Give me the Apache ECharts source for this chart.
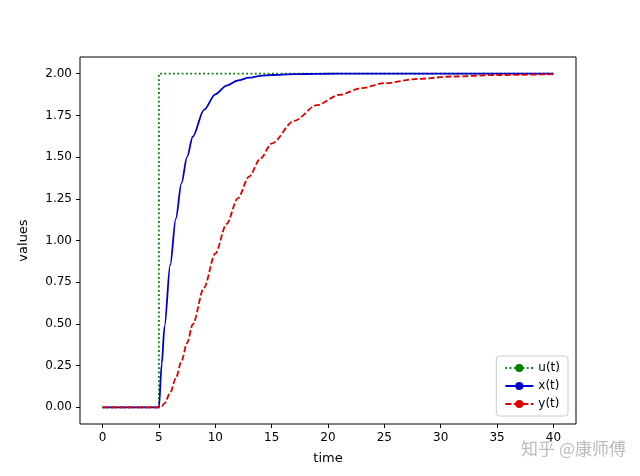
<!DOCTYPE html>
<html>
<head>
<meta charset="utf-8">
<script src="https://cdn.jsdelivr.net/npm/echarts@6/dist/echarts.min.js"></script>
<style>html,body{margin:0;padding:0;background:#fff}#chart{width:640px;height:476px}</style>
</head>
<body>
<div id="chart"></div>
<script>
// values
const uTime = [0, 5, 5, 40];
const uVals = [0, 0, 2, 2];
const xyTime = [0, 5, 5.25, 5.5, 6, 6.5, 7, 7.5, 8, 9, 10, 11, 12, 13, 14, 15, 17, 19, 21, 23, 25, 28, 31, 35, 40];
const xVals = [0, 0, 0.26, 0.486, 0.853, 1.131, 1.342, 1.501, 1.622, 1.783, 1.876, 1.929, 1.959, 1.976, 1.987, 1.992, 1.997, 1.999, 2, 2, 2, 2, 2, 2, 2];
const yVals = [0, 0, 0.007, 0.024, 0.087, 0.174, 0.276, 0.385, 0.497, 0.717, 0.921, 1.099, 1.253, 1.383, 1.491, 1.581, 1.717, 1.811, 1.873, 1.914, 1.943, 1.969, 1.983, 1.992, 1.997];
const xTicks = [0, 5, 10, 15, 20, 25, 30, 35, 40];
const yTicks = [0, 0.25, 0.5, 0.75, 1, 1.25, 1.5, 1.75, 2];

const zip = (a, b) => a.map((v, i) => [v, b[i]]);
const font = 'DejaVu Sans';
const chart = echarts.init(document.getElementById('chart'));

chart.setOption({
  animation: false,
  textStyle: { fontFamily: font },
  grid: { left: 80, right: 64, top: 57, bottom: 52, show: true, borderColor: '#000', borderWidth: 1 },
  xAxis: {
    type: 'value', min: -2, max: 42,
    name: 'time', nameLocation: 'middle', nameGap: 28,
    nameTextStyle: { color: '#000', fontSize: 13, fontFamily: font },
    axisLine: { show: false, onZero: false },
    axisTick: { show: true, length: 4, lineStyle: { color: '#000' }, customValues: xTicks },
    axisLabel: { color: '#000', fontSize: 12, margin: 8, customValues: xTicks },
    splitLine: { show: false }
  },
  yAxis: {
    type: 'value', min: -0.1, max: 2.1,
    name: 'values', nameLocation: 'middle', nameGap: 50, nameRotate: 90,
    nameTextStyle: { color: '#000', fontSize: 13, fontFamily: font },
    axisLine: { show: false, onZero: false },
    axisTick: { show: true, length: 4, lineStyle: { color: '#000' }, customValues: yTicks },
    axisLabel: { color: '#000', fontSize: 12, margin: 8, customValues: yTicks, formatter: v => v.toFixed(2) },
    splitLine: { show: false }
  },
  legend: {
    orient: 'vertical', right: 72, bottom: 60,
    backgroundColor: '#fff', borderColor: '#ccc', borderWidth: 1, borderRadius: 3,
    padding: [6, 8], itemGap: 6, itemWidth: 28, itemHeight: 10,
    textStyle: { color: '#000', fontSize: 12, fontFamily: font },
    data: ['u(t)', 'x(t)', 'y(t)']
  },
  series: [
    { name: 'u(t)', type: 'line', symbol: 'none', data: zip(uTime, uVals),
      lineStyle: { color: '#007f00', width: 1.8, type: [1.8, 2.5] }, itemStyle: { color: '#007f00' } },
    { name: 'x(t)', type: 'line', symbol: 'none', smooth: 0.3, smoothMonotone: 'x', data: zip(xyTime, xVals),
      lineStyle: { color: '#0000cc', width: 1.8 }, itemStyle: { color: '#0000cc' } },
    { name: 'y(t)', type: 'line', symbol: 'none', smooth: 0.3, smoothMonotone: 'x', data: zip(xyTime, yVals),
      lineStyle: { color: '#dd0000', width: 1.8, type: [6, 2.5] }, itemStyle: { color: '#dd0000' } }
  ],
  graphic: [{
    type: 'text', right: 14, top: 440,
    style: { text: '知乎 @康师傅', fill: '#bbb', fontSize: 17, fontFamily: 'Noto Sans CJK SC' }
  }]
});
</script>
</body>
</html>
